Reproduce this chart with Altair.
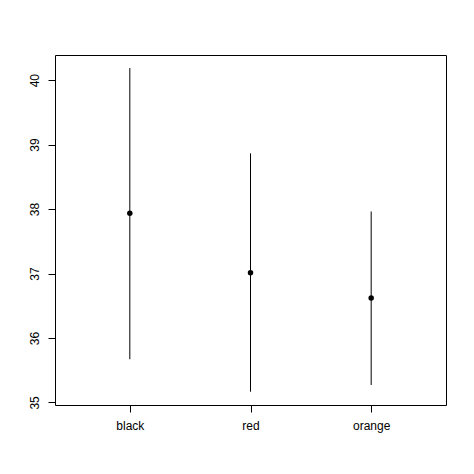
import altair as alt
import pandas as pd

categories = ["black", "red", "orange"]
means = [37.935, 37.013, 36.619]
lows = [35.67, 35.166, 35.27]
highs = [40.187, 38.864, 37.962]
y_ticks = [35, 36, 37, 38, 39, 40]

df = pd.DataFrame({"cat": categories, "mean": means, "low": lows, "high": highs})

font = "Liberation Sans"

x = alt.X("cat:N", sort=categories, title=None,
          scale=alt.Scale(type="point", padding=0.62),
          axis=alt.Axis(domain=False, tickSize=7, tickColor="black", labelAngle=0,
                        labelPadding=8, labelFont=font, labelFontSize=12,
                        labelColor="black", grid=False))
yscale = alt.Scale(domain=[34.96, 40.39], nice=False, zero=False)

rules = alt.Chart(df).mark_rule(color="black", strokeWidth=1).encode(
    x=x,
    y=alt.Y("low:Q", scale=yscale, title=None,
            axis=alt.Axis(values=y_ticks, format="d", domain=False, tickSize=7,
                          tickColor="black",
                          labelAngle=270, labelAlign="center", labelBaseline="bottom",
                          labelPadding=7, labelFont=font, labelFontSize=12,
                          labelColor="black", grid=False)),
    y2="high:Q",
)

points = alt.Chart(df).mark_point(filled=True, color="black", size=30, opacity=1).encode(
    x=x,
    y=alt.Y("mean:Q", scale=yscale),
)

chart = (rules + points).properties(
    width=391, height=350,
    background="white",
    autosize=alt.AutoSizeParams(type="none"),
    padding={"left": 47, "top": 47, "right": 20, "bottom": 50},
).configure_view(stroke="black", strokeWidth=1)

chart.save("out.html", embed_options={"renderer": "svg", "actions": False})
